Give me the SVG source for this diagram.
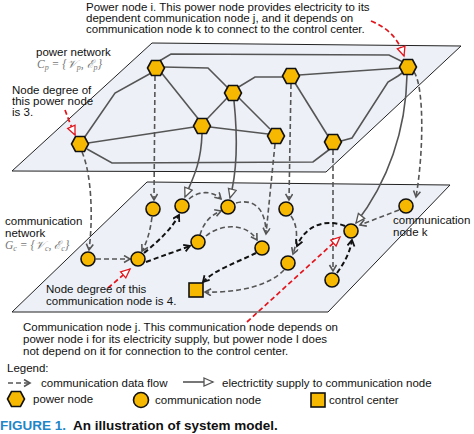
<svg xmlns="http://www.w3.org/2000/svg" width="474" height="434" viewBox="0 0 474 434">
<style>
.plane{fill:#edf1f7;stroke:#222;stroke-width:1}
.pe{fill:none;stroke:#555;stroke-width:1.6}
.gd{fill:none;stroke:#555;stroke-width:1.6;stroke-dasharray:5,3}
.bd{fill:none;stroke:#111;stroke-width:2;stroke-dasharray:5,3}
.rd{fill:none;stroke:#e3141b;stroke-width:1.7;stroke-dasharray:5,3}
.node{fill:#f6b800;stroke:#111;stroke-width:1.6}
text{font-family:"Liberation Sans",Arial,sans-serif;font-size:11.5px;fill:#111}
.math{font-family:"Liberation Serif","DejaVu Serif",serif;font-style:italic;fill:#777;font-size:11.5px}
.sub{font-size:8px}
.cap{font-weight:bold;font-size:13.5px}
</style>
<defs>
<polygon id="hex" points="-8.5,0 -4.5,-7.5 4.5,-7.5 8.5,0 4.5,7.5 -4.5,7.5"/>
<marker id="ag" markerWidth="10" markerHeight="10" refX="7" refY="4" orient="auto" markerUnits="userSpaceOnUse"><path d="M1,0.5 L7,4 L1,7.5" fill="none" stroke="#555" stroke-width="1.6"/></marker>
<marker id="ab" markerWidth="10" markerHeight="10" refX="7" refY="4" orient="auto" markerUnits="userSpaceOnUse"><path d="M1,0.5 L7,4 L1,7.5" fill="none" stroke="#111" stroke-width="1.8"/></marker>
<marker id="at" markerWidth="12" markerHeight="12" refX="10" refY="5" orient="auto" markerUnits="userSpaceOnUse"><path d="M1,1 L10,5 L1,9 Z" fill="#fff" stroke="#555" stroke-width="1.3"/></marker>
<marker id="ar" markerWidth="12" markerHeight="12" refX="10" refY="5" orient="auto" markerUnits="userSpaceOnUse"><path d="M1,1 L10,5 L1,9 Z" fill="#fff" stroke="#e3141b" stroke-width="1.3"/></marker>
</defs>

<g id="planes">
<path class="plane" d="M152,43 L461,46 L326,172 L12,171 Z"/>
<path class="plane" d="M147,182 L450,185 L328,312 L12,312 Z"/>
</g>

<g id="connectors">
<!-- power network edges -->
<path class="pe" d="M156,63 L171,54 L389,55 L405,63"/>
<path class="pe" d="M153,72 L115,93 L82,141"/>
<path class="pe" d="M163,67 L208,68 L230,90"/>
<path class="pe" d="M160,71 L200,121"/>
<path class="pe" d="M237,88 L255,77 L285,77"/>
<path class="pe" d="M228,97 L207,119"/>
<path class="pe" d="M238,97 L270,129"/>
<path class="pe" d="M210,127 L268,134"/>
<path class="pe" d="M88,143 L194,127"/>
<path class="pe" d="M299,75 L400,68"/>
<path class="pe" d="M295,83 L328,136"/>
<path class="pe" d="M341,141 L352,138 L388,82 L398,76 L405,71"/>
<path class="pe" d="M87,149 L112,163 L313,162 L330,149"/>
<!-- electricity supply -->
<path class="pe" d="M202,134 C201,165 192,180 185,197" marker-end="url(#at)"/>
<path class="pe" d="M234,101 C238,140 237,172 230,198" marker-end="url(#at)"/>
<path class="pe" d="M407,75 C406,130 388,182 356,223" marker-end="url(#at)"/>
<!-- power to comm dashed -->
<path class="gd" d="M155,76 L154,200" marker-end="url(#ag)"/>
<path class="gd" d="M291,84 L289,200" marker-end="url(#ag)"/>
<path class="gd" d="M275,144 L266,234" marker-end="url(#ag)"/>
<path class="gd" d="M333,150 L333,271" marker-end="url(#ag)"/>
<path class="gd" d="M82,152 C92,175 93,220 89,250" marker-end="url(#ag)"/>
<path class="gd" d="M414,72 C424,86 424,150 416,197" marker-end="url(#ag)"/>
<!-- comm gray dashed -->
<path class="gd" d="M96,259 L130,259" marker-end="url(#ag)"/>
<path class="gd" d="M152,217 C150,232 147,242 142,251" marker-end="url(#ag)"/>
<path class="gd" d="M189,199 C198,191 212,190 221,199" marker-end="url(#ag)"/>
<path class="gd" d="M200,235 C203,224 210,215 221,211" marker-end="url(#ag)"/>
<path class="gd" d="M206,236 C220,224 246,222 257,240" marker-end="url(#ag)"/>
<path class="gd" d="M236,203 C255,198 266,210 266,234"/>
<path class="gd" d="M291,216 C298,226 298,240 293,254" marker-end="url(#ag)"/>
<path class="gd" d="M284,270 C270,285 240,293 205,292" marker-end="url(#ag)"/>
<path class="gd" d="M399,210 L360,225" marker-end="url(#ag)"/>
<!-- comm black dashed -->
<path class="bd" d="M144,253 C160,240 172,228 179,215" marker-end="url(#ab)"/>
<path class="bd" d="M146,262 C162,256 177,251 190,246" marker-end="url(#ab)"/>
<path class="bd" d="M256,253 C238,262 214,270 203,282" marker-end="url(#ab)"/>
<path class="bd" d="M345,226 C325,218 305,226 297,246" marker-end="url(#ab)"/>
<path class="bd" d="M337,273 C345,262 350,252 352,240" marker-end="url(#ab)"/>
<!-- red annotations -->
<path class="rd" d="M371,21 C388,28 398,38 404,56" marker-end="url(#ar)"/>
<path class="rd" d="M65,110 C68,118 71,126 75,135" marker-end="url(#ar)"/>
<path class="rd" d="M108,288 L130,269" marker-end="url(#ar)"/>
<path class="rd" d="M247,322 L340,237" marker-end="url(#ar)"/>
</g>

<g id="power-nodes">
<use id="p1" href="#hex" class="node" x="156" y="68"/>
<use id="p2" href="#hex" class="node" x="233" y="93"/>
<use id="p3" href="#hex" class="node" x="291" y="76"/>
<use id="p4" href="#hex" class="node" x="408" y="67"/>
<use id="p5" href="#hex" class="node" x="202" y="126"/>
<use id="p6" href="#hex" class="node" x="276" y="136"/>
<use id="p7" href="#hex" class="node" x="333" y="142"/>
<use id="p8" href="#hex" class="node" x="80" y="144"/>
</g>

<g id="comm-nodes">
<circle id="c1" class="node" cx="153" cy="209" r="7"/>
<circle id="c2" class="node" cx="182" cy="206" r="7"/>
<circle id="c3" class="node" cx="228" cy="207" r="7"/>
<circle id="c4" class="node" cx="286" cy="209" r="7"/>
<circle id="ck" class="node" cx="406" cy="206" r="7"/>
<circle id="cj" class="node" cx="351" cy="231" r="7"/>
<circle id="c5" class="node" cx="88" cy="259" r="7"/>
<circle id="c6" class="node" cx="138" cy="259" r="7"/>
<circle id="c7" class="node" cx="198" cy="242" r="7"/>
<circle id="c8" class="node" cx="262" cy="248" r="7"/>
<circle id="c9" class="node" cx="288" cy="263" r="7"/>
<circle id="c10" class="node" cx="332" cy="280" r="7"/>
</g>
<g id="control-center">
<rect class="node" x="189" y="283" width="14" height="14"/>
</g>

<g id="labels">
<text x="86" y="10.5">Power node i. This power node provides electricity to its</text>
<text x="86" y="21.5">dependent communication node j, and it depends on</text>
<text x="86" y="32.5">communication node k to connect to the control center.</text>
<text x="36" y="55.5">power network</text>
<text class="math" x="37" y="67.5">C<tspan class="sub" dy="2">p</tspan><tspan dy="-2"> = {𝒱</tspan><tspan class="sub" dy="2">p</tspan><tspan dy="-2">, ℰ</tspan><tspan class="sub" dy="2">p</tspan><tspan dy="-2">}</tspan></text>
<text x="12" y="93.5">Node degree of</text>
<text x="12" y="104.5">this power node</text>
<text x="12" y="115.5">is 3.</text>
<text x="5" y="225">communication</text>
<text x="5" y="236.5">network</text>
<text class="math" x="5" y="248.5">G<tspan class="sub" dy="2">c</tspan><tspan dy="-2"> = {𝒱</tspan><tspan class="sub" dy="2">c</tspan><tspan dy="-2">, ℰ</tspan><tspan class="sub" dy="2">c</tspan><tspan dy="-2">}</tspan></text>
<text x="393" y="224">communication</text>
<text x="393" y="235.5">node k</text>
<text x="46" y="293">Node degree of this</text>
<text x="46" y="304.5">communication node is 4.</text>
<text x="23" y="331">Communication node j. This communication node depends on</text>
<text x="23" y="343">power node i for its electricity supply, but power node I does</text>
<text x="23" y="354.5">not depend on it for connection to the control center.</text>
</g>

<g id="legend">
<text x="7" y="372">Legend:</text>
<path class="gd" d="M8,383 L30,383" marker-end="url(#ag)"/>
<text x="41" y="386.5">communication data flow</text>
<path class="pe" d="M183,382 L213,382" marker-end="url(#at)"/>
<text x="222" y="386.5">electrictity supply to communication node</text>
<use href="#hex" class="node" x="16" y="399"/>
<text x="33" y="403">power node</text>
<circle class="node" cx="141" cy="400" r="7.5"/>
<text x="155" y="404">communication node</text>
<rect class="node" x="311" y="393" width="14" height="14"/>
<text x="329" y="404">control center</text>
</g>

<g id="caption">
<text class="cap" x="0" y="430"><tspan fill="#1f86c8">FIGURE 1.</tspan><tspan x="73">An illustration of system model.</tspan></text>
</g>
</svg>
